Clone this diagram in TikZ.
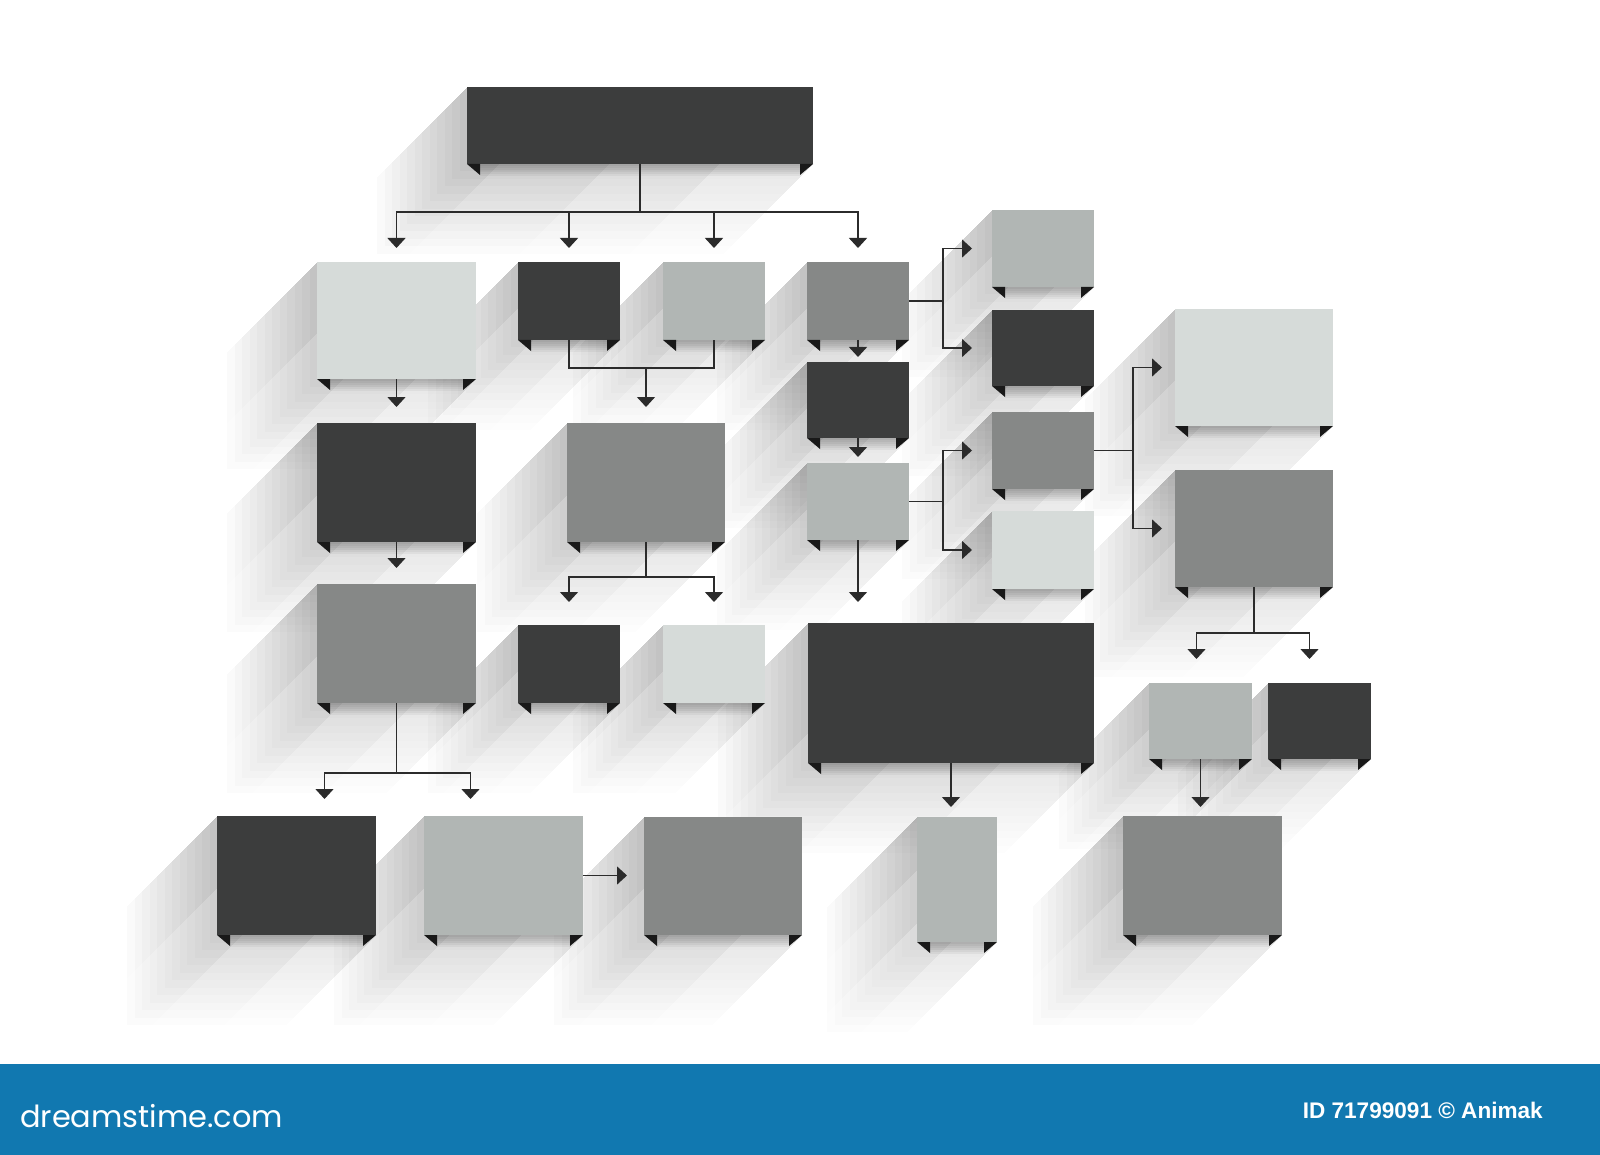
\documentclass[tikz,border=0pt]{standalone}
\usepackage{fontspec}
\newfontfamily\logofont{Poppins}
\newfontfamily\idfont{Liberation Sans}
\usetikzlibrary{arrows.meta,calc}
\pgfdeclarelayer{bg}
\pgfsetlayers{bg,main}
\definecolor{cdark}{HTML}{3C3D3D}
\definecolor{cmid}{HTML}{868887}
\definecolor{cmidl}{HTML}{B1B6B4}
\definecolor{clight}{HTML}{D6DBD9}
\definecolor{conn}{HTML}{2B2B2B}
\definecolor{barblue}{HTML}{1178B0}
\tikzset{
  flowbox/.style={rectangle, draw=none, inner sep=0pt, outer sep=0pt, anchor=north west},
  line/.style={draw=conn, line width=1.4pt},
  arr/.style={line, -{Triangle[width=18pt,length=10pt]}},
  shadowstep/.style={black, opacity=0.0042},
}
% #1 name, #2 x, #3 y (top-left), #4 width, #5 height, #6 colour
\newcommand\mkbox[6]{%
  \node[flowbox, fill=#6, minimum width=#4pt, minimum height=#5pt] (#1) at (#2,#3) {};
  \begin{pgfonlayer}{bg}
    \foreach \i in {1,...,12}{
      \pgfmathsetmacro\tt{90*\i/12}
      \begin{scope}
        \clip (#2,#3) -- (#2+#4,#3) -- (#2+#4,#3+#5) -- (#2+#4-\tt,#3+#5+\tt)
              -- (#2-\tt,#3+#5+\tt) -- (#2-\tt,#3+\tt) -- cycle;
        \foreach \j in {1,...,5}{
          \pgfmathsetmacro\dd{1.3*(#4+#5)*\j/10}
          \fill[shadowstep] (#2+\dd+600,#3+\dd-600) -- (#2+\dd-600,#3+\dd+600)
            -- (#2+\dd-1200,#3+\dd) -- (#2+\dd,#3+\dd-1200) -- cycle;
        }
      \end{scope}
    }
  \end{pgfonlayer}
  \foreach \k in {1,...,6}{
    \fill[black, opacity=0.045] ([shift={(13,0)}]#1.south west) rectangle ([shift={(-13,2*\k)}]#1.south east);
  }
  \fill[black!90] (#1.south west) -- ([shift={(13,0)}]#1.south west) -- ([shift={(13,11)}]#1.south west) -- cycle;
  \fill[black!90] (#1.south east) -- ([shift={(-13,0)}]#1.south east) -- ([shift={(-13,11)}]#1.south east) -- cycle;
}
\begin{document}
\begin{tikzpicture}[x=1pt,y=-1pt]
\useasboundingbox (0,0) rectangle (1600,1155);
\begin{pgfonlayer}{bg}
\fill[white] (0,0) rectangle (1600,1155);
\end{pgfonlayer}

\mkbox{top}{467}{87}{346}{77}{cdark}
\mkbox{A}{317}{262}{159}{117}{clight}
\mkbox{B}{518}{262}{102}{78}{cdark}
\mkbox{C}{663}{262}{102}{78}{cmidl}
\mkbox{D}{807}{262}{102}{78}{cmid}
\mkbox{E}{992}{210}{102}{77}{cmidl}
\mkbox{F}{992}{310}{102}{76}{cdark}
\mkbox{G}{807}{362}{102}{76}{cdark}
\mkbox{H}{992}{412}{102}{77}{cmid}
\mkbox{I}{807}{463}{102}{77}{cmidl}
\mkbox{J}{992}{511}{102}{78}{clight}
\mkbox{K}{1175}{309}{158}{117}{clight}
\mkbox{L}{1175}{470}{158}{117}{cmid}
\mkbox{M}{317}{423}{159}{119}{cdark}
\mkbox{N}{567}{423}{158}{119}{cmid}
\mkbox{O}{317}{584}{159}{119}{cmid}
\mkbox{P}{518}{625}{102}{78}{cdark}
\mkbox{Q}{663}{625}{102}{78}{clight}
\mkbox{R}{808}{623}{286}{140}{cdark}
\mkbox{S}{1149}{683}{103}{76}{cmidl}
\mkbox{T}{1268}{683}{103}{76}{cdark}
\mkbox{U}{217}{816}{159}{119}{cdark}
\mkbox{V}{424}{816}{159}{119}{cmidl}
\mkbox{W}{644}{817}{158}{118}{cmid}
\mkbox{X}{917}{817}{80}{125}{cmidl}
\mkbox{Y}{1123}{816}{159}{119}{cmid}

% top -> A,B,C,D
\coordinate (tb) at ($(top.south)+(0,48)$);
\draw[line] (top.south) -- (tb);
\foreach \n in {A,B,C,D}{\draw[arr, shorten >=14pt] (tb) -| (\n.north);}
% A -> M
\draw[arr, shorten >=16pt] (A.south) -- (M.north);
% B,C -> N
\coordinate (bcb) at ($(B.south)+(0,28)$);
\draw[line] (B.south) -- (bcb) -| (C.south);
\draw[arr, shorten >=16pt] (bcb -| N.north) -- (N.north);
% D -> G -> I
\draw[arr, shorten >=5pt] (D.south) -- (G.north);
\draw[arr, shorten >=6pt] (G.south) -- (I.north);
% D -> E,F
\coordinate (dr) at ($(D.east)+(34,0)$);
\draw[line] (D.east) -- (dr);
\draw[arr, shorten >=20pt] (dr) |- (E.west);
\draw[arr, shorten >=20pt] (dr) |- (F.west);
% I -> H,J
\coordinate (ir) at ($(I.east)+(34,0)$);
\draw[line] (I.east) -- (ir);
\draw[arr, shorten >=20pt] (ir) |- (H.west);
\draw[arr, shorten >=20pt] (ir) |- (J.west);
% I -> R
\draw[arr, shorten >=21pt] (I.south) -- (I.south |- R.north);
% H -> K,L
\coordinate (hr) at ($(H.east)+(39,0)$);
\draw[line] (H.east) -- (hr);
\draw[arr, shorten >=13pt] (hr) |- (K.west);
\draw[arr, shorten >=13pt] (hr) |- (L.west);
% L -> S,T
\coordinate (lb) at ($(L.south)+(0,46)$);
\draw[line] (L.south) -- (lb);
\draw[arr, shorten >=24pt] (lb) -| ([xshift=-4pt]S.north);
\draw[arr, shorten >=24pt] (lb) -| ([xshift=-10pt]T.north);
% M -> O
\draw[arr, shorten >=16pt] (M.south) -- (O.north);
% N -> P,Q
\coordinate (nb) at ($(N.south)+(0,35)$);
\draw[line] (N.south) -- (nb);
\draw[arr, shorten >=23pt] (nb) -| (P.north);
\draw[arr, shorten >=23pt] (nb) -| (Q.north);
% O -> U,V
\coordinate (ob) at ($(O.south)+(0,70)$);
\draw[line] (O.south) -- (ob);
\draw[arr, shorten >=17pt] (ob) -| ([xshift=28pt]U.north);
\draw[arr, shorten >=17pt] (ob) -| ([xshift=-33pt]V.north);
% V -> W
\draw[arr, shorten >=17pt] (V.east) -- (V.east -| W.west);
% R -> X, S -> Y
\draw[arr, shorten >=10pt] (R.south) -- (R.south |- X.north);
\draw[arr, shorten >=9pt] (S.south) -- (S.south |- Y.north);

% bottom bar
\fill[barblue] (0,1064) rectangle (1600,1155);
\node[anchor=base west, text=white, inner sep=0pt] (logo) at (20,1127)
  {\resizebox{263pt}{!}{\logofont\fontsize{30pt}{30pt}\selectfont dreamstime.com}};
\node[anchor=base east, text=white, inner sep=0pt] (credit) at (1543,1118)
  {\resizebox{240pt}{!}{\idfont\bfseries\fontsize{23pt}{23pt}\selectfont ID 71799091 © Animak}};
\end{tikzpicture}
\end{document}
